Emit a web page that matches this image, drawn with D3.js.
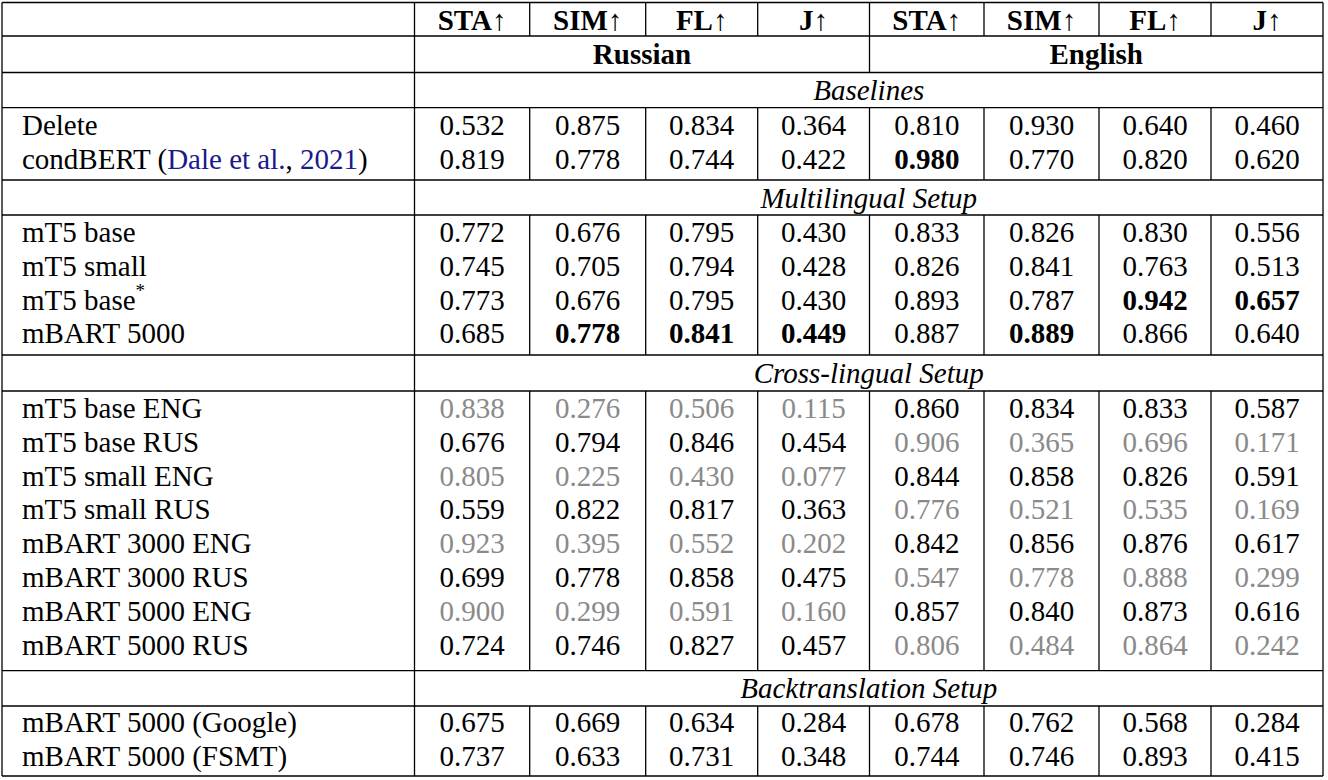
<!DOCTYPE html>
<html><head><meta charset="utf-8">
<script src="https://cdn.jsdelivr.net/npm/d3@7"></script>
<style>body{margin:0;background:#fff}</style></head>
<body><svg id="c" width="1328" height="780"></svg>
<script>
const metrics = ["STA↑","SIM↑","FL↑","J↑","STA↑","SIM↑","FL↑","J↑"];
const languages = ["Russian","English"];
const sections = ["Baselines","Multilingual Setup","Cross-lingual Setup","Backtranslation Setup"];
const baselineNames = ["Delete","condBERT"];
const baselineValues = [
 [0.532,0.875,0.834,0.364,0.810,0.930,0.640,0.460],
 [0.819,0.778,0.744,0.422,0.980,0.770,0.820,0.620]];
const multiNames = ["mT5 base","mT5 small","mT5 base*","mBART 5000"];
const multiValues = [
 [0.772,0.676,0.795,0.430,0.833,0.826,0.830,0.556],
 [0.745,0.705,0.794,0.428,0.826,0.841,0.763,0.513],
 [0.773,0.676,0.795,0.430,0.893,0.787,0.942,0.657],
 [0.685,0.778,0.841,0.449,0.887,0.889,0.866,0.640]];
const crossNames = ["mT5 base ENG","mT5 base RUS","mT5 small ENG","mT5 small RUS","mBART 3000 ENG","mBART 3000 RUS","mBART 5000 ENG","mBART 5000 RUS"];
const crossValues = [
 [0.838,0.276,0.506,0.115,0.860,0.834,0.833,0.587],
 [0.676,0.794,0.846,0.454,0.906,0.365,0.696,0.171],
 [0.805,0.225,0.430,0.077,0.844,0.858,0.826,0.591],
 [0.559,0.822,0.817,0.363,0.776,0.521,0.535,0.169],
 [0.923,0.395,0.552,0.202,0.842,0.856,0.876,0.617],
 [0.699,0.778,0.858,0.475,0.547,0.778,0.888,0.299],
 [0.900,0.299,0.591,0.160,0.857,0.840,0.873,0.616],
 [0.724,0.746,0.827,0.457,0.806,0.484,0.864,0.242]];
const backNames = ["mBART 5000 (Google)","mBART 5000 (FSMT)"];
const backValues = [
 [0.675,0.669,0.634,0.284,0.678,0.762,0.568,0.284],
 [0.737,0.633,0.731,0.348,0.744,0.746,0.893,0.415]];
// bold cells: [section, row, col]
const boldCells = [[0,1,4],[1,2,6],[1,2,7],[1,3,1],[1,3,2],[1,3,3],[1,3,5]];

const svg = d3.select("#c");
const FONT = "'Liberation Serif','Times New Roman',serif";
const FS = 29;
const colEdges = [2,414.5,529.7,645.7,757.7,869.5,984,1099,1211,1323];
const xCenter = i => (colEdges[i+1]+colEdges[i+2])/2;
const ln = (x1,y1,x2,y2)=>svg.append("line").attr("x1",x1).attr("y1",y1).attr("x2",x2).attr("y2",y2).attr("stroke","#000").attr("stroke-width",1.3);
const txt = (x,y,s,opt={})=>svg.append("text").attr("x",x).attr("y",y).attr("font-family",FONT).attr("font-size",opt.fs||FS)
  .attr("text-anchor",opt.anchor||"middle").attr("dominant-baseline","central")
  .attr("font-weight",opt.bold?"bold":"normal").attr("font-style",opt.italic?"italic":"normal").attr("fill",opt.fill||"#000").text(s);

const yTop=2.5, h1=36, h2=72.5;
metrics.forEach((m,i)=>txt(xCenter(i),(yTop+h1)/2+1,m,{bold:true}));
languages.forEach((l,i)=>txt((colEdges[1+i*4]+colEdges[5+i*4])/2,(h1+h2)/2,l,{bold:true}));

const groups = [
 {names:baselineNames, vals:baselineValues, secTop:72.5, secBot:107.7, rowStart:125, end:180},
 {names:multiNames, vals:multiValues, secTop:180, secBot:215, rowStart:232, end:355},
 {names:crossNames, vals:crossValues, secTop:355, secBot:391, rowStart:408, end:670.7},
 {names:backNames, vals:backValues, secTop:670.7, secBot:706, rowStart:722, end:776}];
const rowStep = 33.8;

groups.forEach((g,gi)=>{
  txt((colEdges[1]+colEdges[9])/2,(g.secTop+g.secBot)/2,sections[gi],{italic:true});
  ln(colEdges[0],g.secBot,colEdges[9],g.secBot);
  const y = d3.scaleLinear().domain([0,1]).range([g.rowStart,g.rowStart+rowStep]);
  g.names.forEach((n,ri)=>{
    const t = txt(22,y(ri),"",{anchor:"start"});
    if(gi===0 && ri===1){
      t.append("tspan").text("condBERT (");
      t.append("tspan").attr("fill","#1a1a8c").text("Dale et al.");
      t.append("tspan").text(", ");
      t.append("tspan").attr("fill","#1a1a8c").text("2021");
      t.append("tspan").text(")");
    } else if(n.endsWith("*")){
      t.append("tspan").text(n.slice(0,-1));
      t.append("tspan").attr("font-size",19).attr("dy",-10).text("*");
    } else t.text(n);
    g.vals[ri].forEach((v,ci)=>{
      const bold = boldCells.some(b=>b[0]===gi&&b[1]===ri&&b[2]===ci);
      let gray=false;
      if(gi===2){ const eng=n.endsWith("ENG"); gray = eng ? ci<4 : ci>=4; }
      txt(xCenter(ci),y(ri),d3.format(".3f")(v),{bold,fill:gray?"#8a8a8a":"#000"});
    });
  });
  ln(colEdges[0],g.end,colEdges[9],g.end);
});

ln(colEdges[0],yTop,colEdges[9],yTop);
ln(colEdges[0],h1,colEdges[9],h1);
ln(colEdges[0],h2,colEdges[9],h2);
ln(colEdges[0],yTop,colEdges[0],776);
ln(colEdges[9],yTop,colEdges[9],776);
ln(colEdges[1],yTop,colEdges[1],776);
const dataSpans=[[yTop,h1]].concat(groups.map(g=>[g.secBot,g.end]));
[2,3,4,6,7,8].forEach(i=>dataSpans.forEach(s=>ln(colEdges[i],s[0],colEdges[i],s[1])));
dataSpans.concat([[h1,h2]]).forEach(s=>ln(colEdges[5],s[0],colEdges[5],s[1]));
</script></body></html>
